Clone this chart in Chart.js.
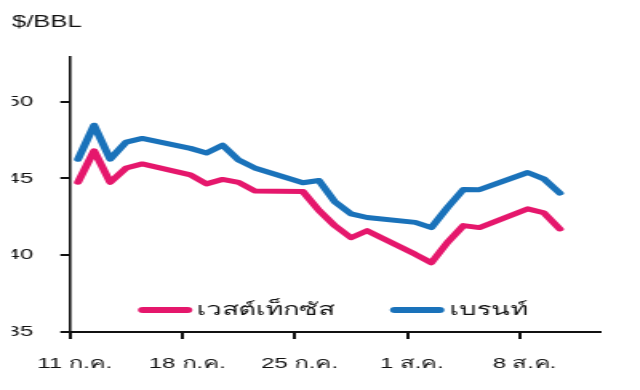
<!DOCTYPE html>
<html>
<head>
<meta charset="utf-8">
<script src="https://cdn.jsdelivr.net/npm/chart.js@4"></script>
<style>
  html, body { margin: 0; padding: 0; background: #fff; }
  #chart { display: block; }
</style>
</head>
<body>
<!-- the original picture is stretched sideways, so the canvas is drawn narrow and widened by css -->
<canvas id="chart" width="400" height="390" style="width:640px;height:390px"></canvas>
<script>
// Trading days, 2016
const dates = [
  '2016-07-11', '2016-07-12', '2016-07-13', '2016-07-14', '2016-07-15',
  '2016-07-18', '2016-07-19', '2016-07-20', '2016-07-21', '2016-07-22',
  '2016-07-25', '2016-07-26', '2016-07-27', '2016-07-28', '2016-07-29',
  '2016-08-01', '2016-08-02', '2016-08-03', '2016-08-04', '2016-08-05',
  '2016-08-08', '2016-08-09', '2016-08-10'
]
const wti = [
  44.76, 46.80, 44.75, 45.68, 45.95,
  45.24, 44.65, 44.94, 44.75, 44.19,
  44.15, 42.92, 41.92, 41.14, 41.60,
  40.06, 39.51, 40.83, 41.93, 41.80,
  43.02, 42.77, 41.71
]
const brent = [
  46.25, 48.47, 46.26, 47.37, 47.61,
  46.96, 46.66, 47.17, 46.20, 45.69,
  44.72, 44.87, 43.47, 42.70, 42.46,
  42.14, 41.80, 43.10, 44.29, 44.27,
  45.39, 44.98, 44.05
]
const seriesNames = ['เวสต์เท็กซัส', 'เบรนท์']
const tickDates = ['2016-07-11', '2016-07-18', '2016-07-25', '2016-08-01', '2016-08-08']
const tickLabels = ['11 ก.ค.', '18 ก.ค.', '25 ก.ค.', '1 ส.ค.', '8 ส.ค.']
const yTicks = [35, 40, 45, 50]

const FONT = '"Liberation Sans", Arial, sans-serif'
const INK = '#111'

const start = Date.parse(dates[0])
const dayOf = d => (Date.parse(d) - start) / 864e5
const toPoints = vals => vals.map((v, i) => ({ x: dayOf(dates[i]), y: v }))

// legend sits inside the plot, near the bottom
const lineLegend = {
  id: 'lineLegend',
  afterDatasetsDraw(chart) {
    const { ctx, chartArea } = chart
    const y = chartArea.bottom - 22
    const starts = [42.5, 200]
    ctx.save()
    ctx.font = '17px ' + FONT
    ctx.textBaseline = 'middle'
    chart.data.datasets.forEach((ds, i) => {
      const x = chartArea.left + starts[i]
      ctx.strokeStyle = ds.borderColor
      ctx.lineWidth = 6
      ctx.lineCap = 'round'
      ctx.beginPath()
      ctx.moveTo(x + 3, y)
      ctx.lineTo(x + 31, y)
      ctx.stroke()
      ctx.fillStyle = INK
      ctx.fillText(ds.label, x + 37, y)
    })
    ctx.restore()
  }
}

const ctx = document.getElementById('chart')
new Chart(ctx, {
  type: 'line',
  data: {
    datasets: [{
      label: seriesNames[0],
      data: toPoints(wti),
      borderColor: '#E5176C',
      borderWidth: 5,
      pointRadius: 0,
      tension: 0,
      borderJoinStyle: 'round',
      borderCapStyle: 'round'
    }, {
      label: seriesNames[1],
      data: toPoints(brent),
      borderColor: '#1A72BA',
      borderWidth: 5,
      pointRadius: 0,
      tension: 0,
      borderJoinStyle: 'round',
      borderCapStyle: 'round'
    }]
  },
  options: {
    responsive: false,
    devicePixelRatio: 1,
    animation: false,
    layout: { padding: { left: 7.5, right: 25, top: 0, bottom: 0 } },
    plugins: {
      legend: { display: false },
      tooltip: { enabled: false },
      title: {
        display: true,
        text: '$/BBL',
        align: 'start',
        color: INK,
        font: { size: 16, family: FONT, weight: 'normal' },
        padding: { top: 13, bottom: 25 }
      }
    },
    scales: {
      x: {
        type: 'linear',
        min: -0.5,
        max: 32.5,
        afterBuildTicks: scale => {
          scale.ticks = tickDates.map(d => ({ value: dayOf(d) - 0.5 }))
        },
        afterFit: scale => { scale.height = 58 },
        ticks: {
          autoSkip: false,
          maxRotation: 0,
          padding: 16,
          labelOffset: 3,
          color: INK,
          font: { size: 15, family: FONT },
          callback: (v, i) => tickLabels[i]
        },
        grid: { drawOnChartArea: false, tickLength: 7, color: INK, lineWidth: 2 },
        border: { color: INK, width: 2 }
      },
      y: {
        min: 35,
        max: 52.9,
        afterBuildTicks: scale => {
          scale.ticks = yTicks.map(v => ({ value: v }))
        },
        afterFit: scale => { scale.width = 36.25 },
        ticks: {
          padding: 17,
          color: INK,
          font: { size: 15, family: FONT }
        },
        grid: { drawOnChartArea: false, tickLength: 6, color: INK, lineWidth: 2 },
        border: { color: INK, width: 1.6 }
      }
    }
  },
  plugins: [lineLegend]
})
</script>
</body>
</html>
